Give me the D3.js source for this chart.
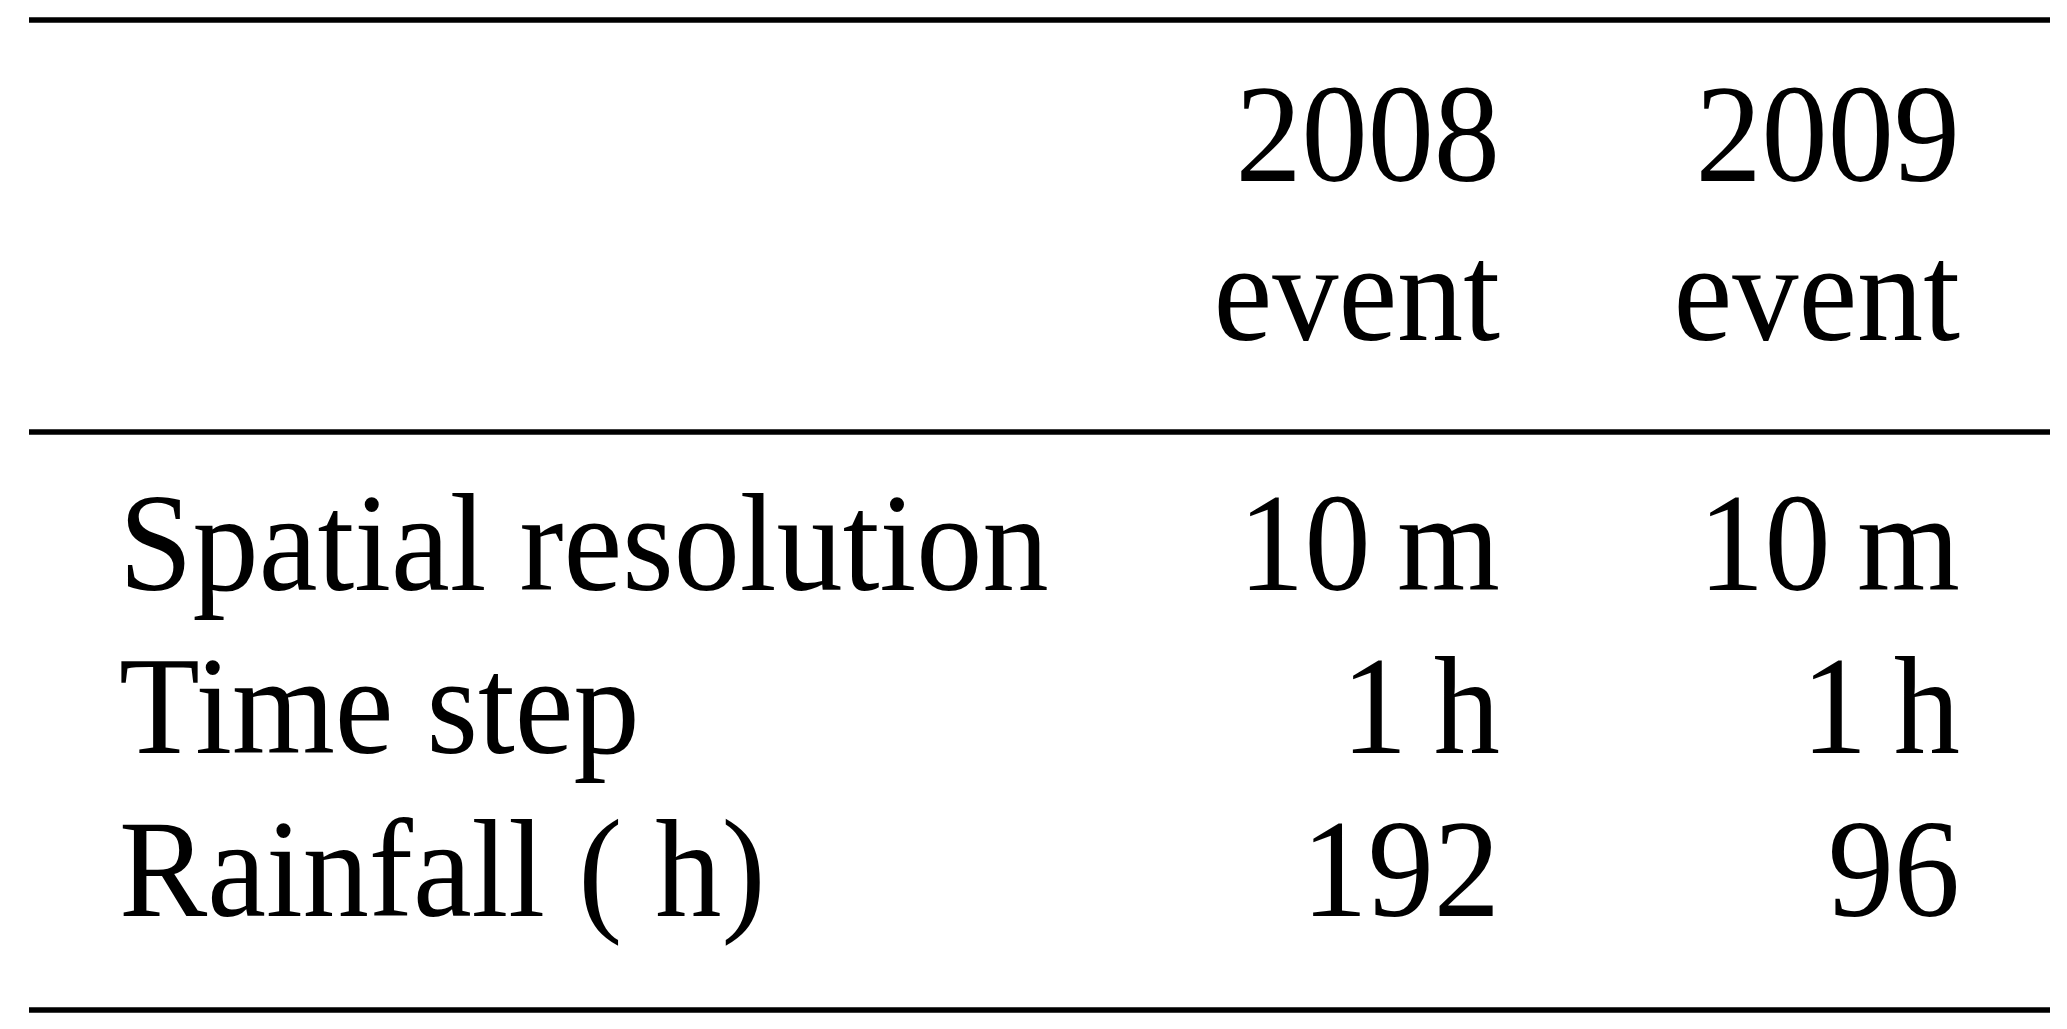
<!DOCTYPE html><html><head><meta charset="utf-8">
<script src="https://cdn.jsdelivr.net/npm/d3@7"></script>
<style>body{margin:0;background:#fff}</style></head><body>
<svg id="c" width="2067" height="1029"></svg>
<script>
const columns = ["2008 event", "2009 event"];
const rowLabels = ["Spatial resolution", "Time step", "Rainfall ( h)"];
const col2008 = ["10\u2009m", "1\u2009h", "192"];
const col2009 = ["10\u2009m", "1\u2009h", "96"];

const svg = d3.select("#c");
const font = "'Liberation Serif', 'Times New Roman', serif";
const fs = 140;
const sx = 0.945;
const colRight = {"label":119, "2008 event":1500, "2009 event":1960};
const yRow = d3.scaleLinear().domain([0, 2]).range([590, 916]);

function txt(x, y, s, anchor) {
  svg.append("text").attr("transform", `translate(${x},${y}) scale(${sx},1)`)
    .attr("text-anchor", anchor || "start").attr("font-family", font)
    .attr("font-size", fs).attr("fill", "#000").text(s);
}

[20, 432, 1010].forEach(y => svg.append("line").attr("x1", 29).attr("x2", 2050)
  .attr("y1", y).attr("y2", y).attr("stroke", "#000").attr("stroke-width", 5.5));

columns.forEach(c => {
  const [a, b] = c.split(" ");
  txt(colRight[c], 181, a, "end");
  txt(colRight[c], 340, b, "end");
});

rowLabels.forEach((r, i) => {
  const y = yRow(i);
  txt(colRight.label, y, r);
  txt(colRight["2008 event"], y, col2008[i], "end");
  txt(colRight["2009 event"], y, col2009[i], "end");
});
</script></body></html>
